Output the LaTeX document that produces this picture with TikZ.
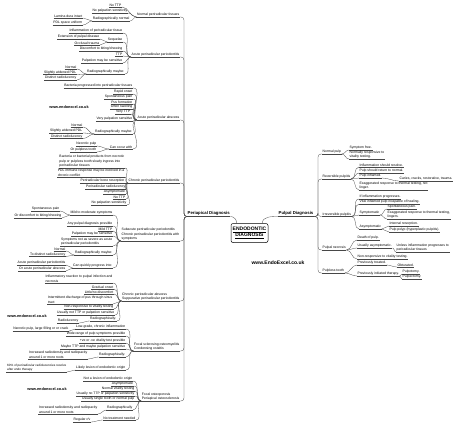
\documentclass[tikz,border=0pt]{standalone}
\usepackage{fontspec}
\setmainfont{Liberation Sans}
\usetikzlibrary{calc}
\definecolor{linec}{gray}{0.28}
\newcommand\ftiny{\fontsize{3.4}{4.3}\selectfont}
\newcommand\lnk[2]{\draw[lk] (#1.south east) to[out=0,in=180] (#2.south west);}
\begin{document}
\begin{tikzpicture}[x=1pt,y=-1pt,
 txt/.style={font=\ftiny, inner sep=0.5pt, align=left, append after command={(\tikzlastnode.south west) edge[ulin] (\tikzlastnode.south east)}},
 ulin/.style={draw=linec, line width=0.3pt},
 lk/.style={draw=linec, line width=0.3pt},
 lnd/.style={txt, anchor=south east},
 rnd/.style={txt, anchor=south west},
 web/.style={font=\bfseries\fontsize{3.8}{4.5}\selectfont, inner sep=0pt},
 mainlab/.style={font=\bfseries\fontsize{4.3}{5}\selectfont, inner sep=0.5pt, append after command={(\tikzlastnode.south west) edge[ulin] (\tikzlastnode.south east)}},
]
\useasboundingbox[fill=white] (0,0) rectangle (474,429);

% ---------- centre ----------
\node[draw=black, line width=0.5pt, rounded corners=2pt, fill=white, minimum width=37pt, minimum height=19pt, align=center, font=\bfseries\fontsize{5}{5.8}\selectfont, inner sep=1pt] (ctr) at (249.5,233) {\underline{ENDODONTIC}\\\underline{DIAGNOSIS}};
\node[mainlab, anchor=south west] (pd) at (187,216.5) {Periapical Diagnosis};
\node[mainlab, anchor=south west] (pul) at (278,216.5) {Pulpal Diagnosis};
\node[font=\bfseries\fontsize{5}{6}\selectfont, inner sep=0pt] (w4) at (278,263) {www.EndoExcel.co.uk};
\draw[lk] (pd.south east) to[out=0,in=90] ($(ctr.north west)+(6,0)$);
\draw[lk] ($(ctr.north east)+(-6,0)$) to[out=90,in=180] (pul.south west);

% ---------- branch 1 ----------
\node[lnd] (b1) at (180,17) {Normal periradicular tissues};
\node[lnd] (b1a) at (122,7) {No TTP};
\node[lnd] (b1b) at (128,13) {No palpation sensitivity};
\node[lnd] (b1c) at (130,21) {Radiographically normal};
\node[lnd] (b1c1) at (83,18) {Lamina dura intact};
\node[lnd] (b1c2) at (83,25) {PDL space uniform};
\foreach \c in {b1a,b1b,b1c} {\lnk{\c}{b1}}
\foreach \c in {b1c1,b1c2} {\lnk{\c}{b1c}}

% ---------- branch 2 ----------
\node[lnd] (b2) at (180,57) {Acute periradicular periodontitis};
\node[lnd] (b2a) at (123,33) {Inflammation of periradicular tissue};
\node[lnd] (b2b) at (123,42) {Sequelae};
\node[lnd] (b2b1) at (100,39) {Extension of pulpal disease};
\node[lnd] (b2b2) at (100,45) {Occlusal trauma};
\node[lnd] (b2c) at (123,51) {Discomfort to biting/chewing};
\node[lnd] (b2d) at (123,56) {TTP};
\node[lnd] (b2e) at (123,63) {Palpation may be sensitive};
\node[lnd] (b2f) at (125,74) {Radiographically maybe:};
\node[lnd] (b2f1) at (77,69) {Normal};
\node[lnd] (b2f2) at (77,74.5) {Slightly widened PDL};
\node[lnd] (b2f3) at (77,80) {Distinct radiolucency};
\foreach \c in {b2a,b2b,b2c,b2d,b2e,b2f} {\lnk{\c}{b2}}
\foreach \c in {b2b1,b2b2} {\lnk{\c}{b2b}}
\foreach \c in {b2f1,b2f2,b2f3} {\lnk{\c}{b2f}}

% ---------- branch 3 ----------
\node[lnd] (b3) at (180,120) {Acute periradicular abscess};
\node[lnd] (b3a) at (133,88) {Bacteria progressed into periradicular tissues};
\node[lnd] (b3b) at (133,94) {Rapid onset};
\node[lnd] (b3c) at (133,99) {Spontaneous pain};
\node[lnd] (b3d) at (133,104) {Pus formation};
\node[lnd] (b3e) at (133,109) {Often swelling};
\node[lnd] (b3f) at (131,114) {Very TTP};
\node[lnd] (b3g) at (133,121) {Very palpation sensitive};
\node[lnd] (b3h) at (133,134) {Radiographically maybe:};
\node[lnd] (b3h1) at (83,127) {Normal};
\node[lnd] (b3h2) at (83,133) {Slightly widened PDL};
\node[lnd] (b3h3) at (83,138.5) {Distinct radiolucency};
\node[lnd] (b3i) at (133,149) {Can occur with};
\node[lnd] (b3i1) at (97,146) {Necrotic pulp};
\node[lnd] (b3i2) at (97,152) {Or pulpless tooth};
\node[web] (w1) at (69,107) {www.endoexcel.co.uk};
\foreach \c in {b3a,b3b,b3c,b3d,b3e,b3f,b3g,b3h,b3i} {\lnk{\c}{b3}}
\foreach \c in {b3h1,b3h2,b3h3} {\lnk{\c}{b3h}}
\foreach \c in {b3i1,b3i2} {\lnk{\c}{b3i}}

% ---------- branch 4 ----------
\node[lnd] (b4) at (180,183) {Chronic periradicular periodontitis};
\node[lnd] (b4a) at (125,168) {Bacteria or bacterial products from necrotic\\pulp or pulpless tooth slowly ingress into\\periradicular tissues};
\node[lnd] (b4b) at (125,177) {PDL immune response may be involved in a\\chronic conflict};
\node[lnd] (b4c) at (125,183) {Periradicular bone resorption};
\node[lnd] (b4d) at (126,189) {Periradicular radiolucency};
\node[lnd] (b4e) at (126,194) {Asymptomatic};
\node[lnd] (b4f) at (126,199) {No TTP};
\node[lnd] (b4g) at (127,205) {No palpation sensitivity};
\foreach \c in {b4a,b4b,b4c,b4d,b4e,b4f,b4g} {\lnk{\c}{b4}}

% ---------- branch 5 ----------
\node[lnd] (b5) at (180,241) {Subacute periradicular periodontitis\\Chronic periradicular periodontitis with\\symptoms};
\node[lnd] (b5a) at (113,215) {Mild to moderate symptoms};
\node[lnd] (b5a1) at (60,211) {Spontaneous pain};
\node[lnd] (b5a2) at (62,218) {Or discomfort to biting/chewing};
\node[lnd] (b5b) at (113,226) {Any pulpal diagnosis possible};
\node[lnd] (b5c) at (113,231) {Mild TTP};
\node[lnd] (b5d) at (113,236) {Palpation may be sensitive};
\node[lnd] (b5e) at (113,246) {Symptoms not as severe as acute\\periradicular periodontitis};
\node[lnd] (b5f) at (113,255) {Radiographically maybe:};
\node[lnd] (b5f1) at (66,251) {Normal};
\node[lnd] (b5f2) at (66,256.5) {To distinct radiolucency};
\node[lnd] (b5g) at (113,268) {Can quickly progress into:};
\node[lnd] (b5g1) at (66,265) {Acute periradicular periodontitis};
\node[lnd] (b5g2) at (66,271) {Or acute periradicular abscess};
\foreach \c in {b5a,b5b,b5c,b5d,b5e,b5f,b5g} {\lnk{\c}{b5}}
\foreach \c in {b5a1,b5a2} {\lnk{\c}{b5a}}
\foreach \c in {b5f1,b5f2} {\lnk{\c}{b5f}}
\foreach \c in {b5g1,b5g2} {\lnk{\c}{b5g}}

% ---------- branch 6 ----------
\node[lnd] (b6) at (180,301) {Chronic periradicular abscess\\Suppurative periradicular periodontitis};
\node[lnd] (b6a) at (113,283) {Inflammatory reaction to pulpal infection and\\necrosis};
\node[lnd] (b6b) at (114,289) {Gradual onset};
\node[lnd] (b6c) at (114,294) {Little/no discomfort};
\node[lnd] (b6d) at (113,304) {Intermittent discharge of pus through sinus\\tract};
\node[lnd] (b6e) at (114,309) {Non-responsive to vitality testing};
\node[lnd] (b6f) at (115,315) {Usually not TTP or palpation sensitive};
\node[lnd] (b6g) at (117,321) {Radiographically:};
\node[lnd] (b6g1) at (79,323) {Radiolucency};
\node[web] (w2) at (27,316) {www.endoexcel.co.uk};
\foreach \c in {b6a,b6b,b6c,b6d,b6e,b6f,b6g} {\lnk{\c}{b6}}
\lnk{b6g1}{b6g}

% ---------- branch 7 ----------
\node[lnd] (b7) at (180,351) {Focal sclerosing osteomyelitis\\Condensing osteitis};
\node[lnd] (b7a) at (126,329) {Low-grade, chronic inflammation};
\node[lnd] (b7a1) at (69,331) {Necrotic pulp, large filling or or crack};
\node[lnd] (b7b) at (126,336) {Wide range of pulp symptoms possible};
\node[lnd] (b7c) at (126,343) {+ve or -ve vitality test possible};
\node[lnd] (b7d) at (126,349) {Maybe TTP and maybe palpation sensitive};
\node[lnd] (b7e) at (126,357) {Radiographically:};
\node[lnd] (b7e1) at (88,359) {Increased radiodensity and radiopacity\\around 1 or more roots};
\node[lnd] (b7f) at (126,370) {Likely lesion of endodontic origin};
\node[lnd, font=\fontsize{3.1}{4}\selectfont] (b7f1) at (67,372) {60\% of periradicular radiolucencies resolve\\after endo therapy};
\foreach \c in {b7a,b7b,b7c,b7d,b7e,b7f} {\lnk{\c}{b7}}
\lnk{b7a1}{b7a}
\lnk{b7e1}{b7e}
\lnk{b7f1}{b7f}

% ---------- branch 8 ----------
\node[lnd] (b8) at (180,401) {Focal osteoporosis\\Periapical osteosclerosis};
\node[lnd] (b8a) at (133,381) {Not a lesion of endodontic origin};
\node[lnd] (b8b) at (134,386) {Asymptomatic};
\node[lnd] (b8c) at (135,391) {Normal vitality testing};
\node[lnd] (b8d) at (135,396) {Usually no TTP or palpation sensitivity};
\node[lnd] (b8e) at (135,401) {Usually single tooth or normal pulp};
\node[lnd] (b8f) at (133,410) {Radiographically};
\node[lnd] (b8f1) at (98,414) {Increased radiodensity and radiopacity\\around 1 or more roots};
\node[lnd] (b8g) at (136,420) {No treatment needed};
\node[lnd] (b8g1) at (91,422) {Regular r/v};
\node[web] (w3) at (47,389) {www.endoexcel.co.uk};
\foreach \c in {b8a,b8b,b8c,b8d,b8e,b8f,b8g} {\lnk{\c}{b8}}
\lnk{b8f1}{b8f}
\lnk{b8g1}{b8g}

% ---------- left trunk ----------
\foreach \p in {b1,b2,b3,b4,b5,b6,b7,b8} {
  \draw[lk, rounded corners=3pt] (\p.south east) -| ($(pd.south west)+(-3,0)$) -- (pd.south west);
}

% ---------- right side ----------
\node[rnd] (r1) at (322,154) {Normal pulp};
\node[rnd] (r1a) at (349,150) {Symptom free.};
\node[rnd] (r1b) at (349,159) {Normally responsive to\\vitality testing.};
\foreach \c in {r1a,r1b} {\lnk{r1}{\c}}

\node[rnd] (r2) at (322,179) {Reversible pulpitis};
\node[rnd] (r2a) at (359,167) {Inflammation should resolve.};
\node[rnd] (r2b) at (359,173) {Pulp should return to normal.};
\node[rnd] (r2c) at (359,178) {Pulp inflamed.};
\node[rnd] (r2c1) at (399,181) {Caries, cracks, restorative, trauma.};
\node[rnd] (r2d) at (359,190) {Exaggerated response to thermal testing, not\\linger.};
\foreach \c in {r2a,r2b,r2c,r2d} {\lnk{r2}{\c}}
\lnk{r2c}{r2c1}

\node[rnd] (r3) at (322,216.5) {Irreversible pulpitis};
\node[rnd] (r3a) at (359,199) {If inflammation progresses.};
\node[rnd] (r3b) at (359,204) {Vital inflamed pulp incapable of healing.};
\node[rnd] (r3c) at (359,215) {Symptomatic};
\node[rnd] (r3c1) at (387,209) {Spontaneous pain.};
\node[rnd] (r3c2) at (387,219) {Exaggerated response to thermal testing,\\lingers.};
\node[rnd] (r3d) at (359,229) {Asymptomatic};
\node[rnd] (r3d1) at (389,226) {Internal resorption.};
\node[rnd] (r3d2) at (389,232) {Pulp polyp (hyperplastic pulpitis).};
\foreach \c in {r3a,r3b,r3c,r3d} {\lnk{r3}{\c}}
\foreach \c in {r3c1,r3c2} {\lnk{r3c}{\c}}
\foreach \c in {r3d1,r3d2} {\lnk{r3d}{\c}}

\node[rnd] (r4) at (322,250) {Pulpal necrosis};
\node[rnd] (r4a) at (357,240) {Death of pulp.};
\node[rnd] (r4b) at (357,248) {Usually asymptomatic.};
\node[rnd] (r4b1) at (396,252) {Unless inflammation progresses to\\periradicular tissues};
\node[rnd] (r4c) at (357,259) {Non-responsive to vitality testing.};
\foreach \c in {r4a,r4b,r4c} {\lnk{r4}{\c}}
\lnk{r4b}{r4b1}

\node[rnd] (r5) at (322,273) {Pulpless tooth};
\node[rnd] (r5a) at (357,265) {Previously treated.};
\node[rnd] (r5a1) at (397,267) {Obturated.};
\node[rnd] (r5b) at (357,276) {Previously initiated therapy.};
\node[rnd] (r5b1) at (402,274) {Pulpotomy.};
\node[rnd] (r5b2) at (402,279) {Pulpectomy.};
\foreach \c in {r5a,r5b} {\lnk{r5}{\c}}
\lnk{r5a}{r5a1}
\foreach \c in {r5b1,r5b2} {\lnk{r5b}{\c}}

% ---------- right trunk ----------
\foreach \p in {r1,r2,r3,r4,r5} {
  \draw[lk, rounded corners=3pt] (pul.south east) -| ($(\p.south west)+(-4,0)$) -- (\p.south west);
}
\end{tikzpicture}
\end{document}
